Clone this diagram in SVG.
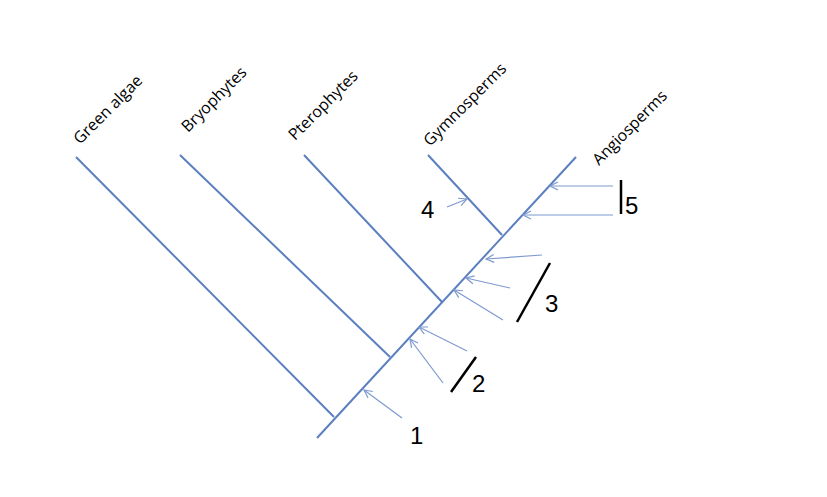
<svg xmlns="http://www.w3.org/2000/svg" width="827" height="497" viewBox="0 0 827 497">
<style>
.br{stroke:#5b7fbf;stroke-width:2;fill:none}
.ar{stroke:#7d9ad0;stroke-width:1.2;fill:none;marker-end:url(#ah)}
.bk{stroke:#000;stroke-width:2.5}
.lb{font-family:"Open Sans","Liberation Sans",sans-serif;font-size:16px;fill:#000}
.nm{font-family:"Liberation Sans",sans-serif;font-size:24px;fill:#000}
</style>
<defs><marker id="ah" markerWidth="10" markerHeight="10" refX="9" refY="5" orient="auto" markerUnits="userSpaceOnUse"><path d="M1,1 L9,5 L1,9" fill="none" stroke="#7d9ad0" stroke-width="1.2"/></marker></defs>
<rect width="827" height="497" fill="#fff"/>
<g id="connectors">
<line class="br" x1="317" y1="438" x2="576" y2="157"/>
<line class="br" x1="76" y1="157" x2="334" y2="417"/>
<line class="br" x1="180" y1="155" x2="390" y2="357"/>
<line class="br" x1="304" y1="155" x2="442" y2="302"/>
<line class="br" x1="428" y1="155" x2="502" y2="235"/>
<line class="ar" x1="402" y1="418" x2="364" y2="390"/>
<line class="ar" x1="443" y1="383" x2="410" y2="339"/>
<line class="ar" x1="467" y1="351" x2="419" y2="327"/>
<line class="ar" x1="503" y1="320" x2="454" y2="290"/>
<line class="ar" x1="510" y1="288" x2="466" y2="278"/>
<line class="ar" x1="542" y1="255" x2="486" y2="259"/>
<line class="ar" x1="447" y1="207" x2="467" y2="199"/>
<line class="ar" x1="613" y1="186" x2="550" y2="186"/>
<line class="ar" x1="613" y1="215" x2="523" y2="215"/>
</g>
<g id="marks">
<line class="bk" x1="451" y1="392" x2="476" y2="357"/>
<line class="bk" x1="517" y1="322" x2="550" y2="263"/>
<line class="bk" x1="621" y1="180" x2="621" y2="214"/>
</g>
<g id="labels">
<text class="lb" transform="translate(80,145) rotate(-45)">Green algae</text>
<text class="lb" transform="translate(188,133) rotate(-45)">Bryophytes</text>
<text class="lb" transform="translate(295,141) rotate(-45)">Pterophytes</text>
<text class="lb" transform="translate(430,147) rotate(-45)">Gymnosperms</text>
<text class="lb" transform="translate(599,166) rotate(-45)">Angiosperms</text>
</g>
<g id="numbers">
<text class="nm" x="410" y="444">1</text>
<text class="nm" x="472" y="392">2</text>
<text class="nm" x="545" y="312">3</text>
<text class="nm" x="421" y="218">4</text>
<text class="nm" x="625" y="214">5</text>
</g>
</svg>
